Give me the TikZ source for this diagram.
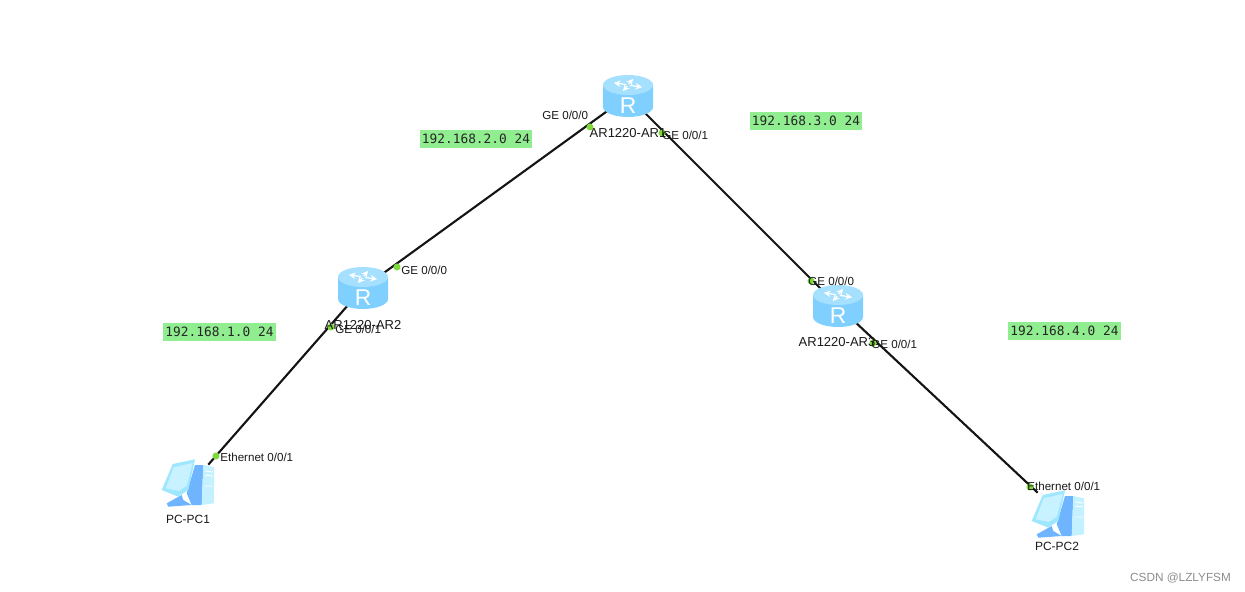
\documentclass[tikz,border=0pt]{standalone}
\usepackage{fontspec}
\setmainfont{Liberation Sans}
\newfontfamily\netmono{DejaVu Sans Mono}
\usepackage{xcolor}
\usepackage{tikz}
\definecolor{routertop}{HTML}{A6E0FF}
\definecolor{routerbody}{HTML}{7FCFFF}
\definecolor{pcscreen}{HTML}{C8F2FF}
\definecolor{pcshell}{HTML}{9FE6FF}
\definecolor{pcside}{HTML}{6FB4FF}
\definecolor{pcfront}{HTML}{C4F1FF}
\definecolor{portgreen}{HTML}{7FD83C}
\definecolor{netgreen}{HTML}{90EE90}
\tikzset{
    iflabel/.style={font=\fontsize{6.6}{8}\selectfont, inner sep=0pt, anchor=west, text=black!90},
    devlabel/.style={font=\fontsize{6.8}{8}\selectfont, inner sep=0pt, text=black!90},
    arlabel/.style={devlabel, font=\fontsize{7.4}{8}\selectfont},
    netlabel/.style={font=\fontsize{7.3}{8}\selectfont\netmono, fill=netgreen, text=black!85, inner sep=0pt, minimum width=113*0.567pt, minimum height=18*0.567pt},
    portdot/.style={circle, fill=portgreen, inner sep=0pt, minimum size=4pt},
    devpoint/.style={inner sep=0pt, minimum size=0pt},
    link/.style={draw=black!92, line width=1.2pt},
    router/.pic={
        \fill[routerbody] (-25,-11) -- (-25,11) arc[start angle=180, end angle=0, x radius=25, y radius=10] -- (25,-11) -- cycle;
        \fill[routertop] (0,-11) ellipse[x radius=25, y radius=10];
        \foreach \ang in {20,110,200,290}
            \draw[white, line width=0.7pt, ->, >=stealth] ({\ang}:2 and 1) ++(0,-11) -- ++({\ang}:13 and 5.5);
        \node[text=white, font=\fontsize{13}{13}\selectfont, inner sep=0pt] at (0,10) {R};
    },
    desktop/.pic={
        \fill[pcside] (7,-18) -- (15.3,-18) -- (13.7,22) -- (3.7,22) -- (-1.3,10.3) -- cycle;
        \fill[pcfront] (15.3,-18) -- (26,-15.7) -- (26,20.3) -- (13.7,22) -- cycle;
        \draw[white, line width=0.5pt] (17,-12) -- (25,-11) (17,-8) -- (25,-7) (17,3) -- (25,3);
        \fill[pcside] (-21.3,20.3) -- (-6.3,12) -- (-4.7,17) -- (3.7,22) -- (-19.7,23.7) -- cycle;
        \fill[pcshell] (-26.3,7) -- (-15.3,-19) -- (7,-23.7) -- (0.3,7) -- (-9.7,13.7) -- cycle;
        \fill[pcscreen] (-22.3,5.3) -- (-14.3,-15.7) -- (4.7,-20) -- (-1,2.3) -- (-9,8) -- cycle;
    },
}

\begin{document}
\begin{tikzpicture}[x=0.02cm, y=-0.02cm]
    \useasboundingbox (0,0) rectangle (1245,592);
    % Add devices
    \pic at (188,483) {desktop};
    \pic at (1058,514) {desktop};
    \node[devpoint] (ar1) at (628,96) {};
    \node[devpoint] (ar2) at (363,288) {};
    \node[devpoint] (ar3) at (838,306) {};
    \node[devpoint] (pc1) at (208,465) {};
    \node[devpoint] (pc2) at (1038,493) {};
    % Add links
    \draw[link] (ar1) -- (ar2);
    \draw[link] (ar2) -- (pc1);
    \draw[link] (ar1) -- (ar3);
    \draw[link] (ar3) -- (pc2);
    \pic at (ar1) {router};
    \pic at (ar2) {router};
    \pic at (ar3) {router};
    % Add ports
    \node[portdot] (p1) at (590,127) {};
    \node[portdot] (p2) at (662,133) {};
    \node[portdot] (p3) at (397,267) {};
    \node[portdot] (p4) at (331,327) {};
    \node[portdot] (p5) at (811,281) {};
    \node[portdot] (p6) at (873,343) {};
    \node[portdot] (p7) at (216,456) {};
    \node[portdot] (p8) at (1030,487) {};
    % Add labels
    \node[arlabel] (ar1name) at (628,133) {AR1220-AR1};
    \node[arlabel] (ar2name) at (363,325) {AR1220-AR2};
    \node[arlabel] (ar3name) at (837,342) {AR1220-AR3};
    \node[devlabel] (pc1name) at (188,519) {PC-PC1};
    \node[devlabel] (pc2name) at (1057,546) {PC-PC2};
    \node[iflabel] (if1) at (542,115) {GE 0/0/0};
    \node[iflabel] (if2) at (662,135) {GE 0/0/1};
    \node[iflabel] (if3) at (401,270) {GE 0/0/0};
    \node[iflabel] (if4) at (335,329) {GE 0/0/1};
    \node[iflabel] (if5) at (808,281) {GE 0/0/0};
    \node[iflabel] (if6) at (871,344) {GE 0/0/1};
    \node[iflabel] (if7) at (220,457) {Ethernet 0/0/1};
    \node[iflabel] (if8) at (1027,486) {Ethernet 0/0/1};
    % Add networks
    \node[netlabel] (net1) at (219.5,332) {192.168.1.0 24};
    \node[netlabel] (net2) at (476,139) {192.168.2.0 24};
    \node[netlabel] (net3) at (806,121) {192.168.3.0 24};
    \node[netlabel] (net4) at (1064.5,331) {192.168.4.0 24};
    \node[font=\fontsize{6.7}{8}\selectfont, text=black!45, inner sep=0pt] (mark) at (1180.5,578) {CSDN @LZLYFSM};
\end{tikzpicture}
\end{document}
